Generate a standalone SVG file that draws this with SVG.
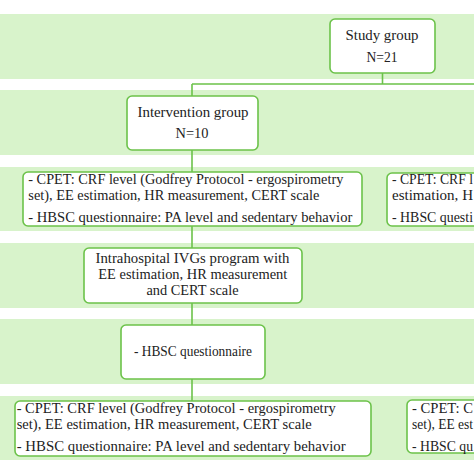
<svg xmlns="http://www.w3.org/2000/svg" width="474" height="474" viewBox="0 0 474 474">
<style>
.band{fill:#d8f3cb}
.box{fill:#ffffff;stroke:#6cc24a;stroke-width:1.6}
.ln{stroke:#6cc24a;stroke-width:1.6;fill:none}
text{font-family:"Liberation Serif","Times New Roman",serif;font-size:14px;fill:#222}
.c{text-anchor:middle}
</style>
<rect width="474" height="474" fill="#ffffff"/>
<g id="bands">
<rect class="band" x="0" y="14" width="474" height="65"/>
<rect class="band" x="0" y="90" width="474" height="65"/>
<rect class="band" x="0" y="167" width="474" height="64"/>
<rect class="band" x="0" y="243" width="474" height="65"/>
<rect class="band" x="0" y="319" width="474" height="65"/>
<rect class="band" x="0" y="396" width="474" height="64"/>
</g>
<g id="connectors">
<path class="ln" d="M382.5,73 V84 M192,84 H474 M192,84 V96"/>
<path class="ln" d="M192,150 V172"/>
<path class="ln" d="M192,226 V248"/>
<path class="ln" d="M192,303 V325"/>
<path class="ln" d="M192,379 V401"/>
</g>
<g id="study">
<rect class="box" x="330" y="19" width="105" height="54" rx="5"/>
<text class="c" x="382" y="40" textLength="73" lengthAdjust="spacingAndGlyphs">Study group</text>
<text class="c" x="382" y="62" textLength="31" lengthAdjust="spacingAndGlyphs">N=21</text>
</g>
<g id="intervention">
<rect class="box" x="127" y="96" width="131" height="54" rx="5"/>
<text class="c" x="193" y="117" textLength="111" lengthAdjust="spacingAndGlyphs">Intervention group</text>
<text class="c" x="192" y="138" textLength="33" lengthAdjust="spacingAndGlyphs">N=10</text>
</g>
<g id="pre-int">
<rect class="box" x="23" y="172" width="339" height="54" rx="5"/>
<text x="28.3" y="184" textLength="315" lengthAdjust="spacingAndGlyphs">- CPET: CRF level (Godfrey Protocol - ergospirometry</text>
<text x="28.3" y="200" textLength="291" lengthAdjust="spacingAndGlyphs">set), EE estimation, HR measurement, CERT scale</text>
<text x="28.3" y="222" textLength="324" lengthAdjust="spacingAndGlyphs">- HBSC questionnaire: PA level and sedentary behavior</text>
</g>
<g id="pre-ctrl">
<rect class="box" x="387" y="173" width="120" height="53" rx="5"/>
<text x="392" y="184" textLength="81" lengthAdjust="spacingAndGlyphs">- CPET: CRF l</text>
<text x="392" y="200" textLength="81" lengthAdjust="spacingAndGlyphs">estimation, H</text>
<text x="392" y="222" textLength="81" lengthAdjust="spacingAndGlyphs">- HBSC questi</text>
</g>
<g id="program">
<rect class="box" x="84" y="248" width="218" height="55" rx="5"/>
<text class="c" x="192.5" y="263" textLength="194" lengthAdjust="spacingAndGlyphs">Intrahospital IVGs program with</text>
<text class="c" x="192.8" y="279" textLength="189" lengthAdjust="spacingAndGlyphs">EE estimation, HR measurement</text>
<text class="c" x="192.5" y="295" textLength="92" lengthAdjust="spacingAndGlyphs">and CERT scale</text>
</g>
<g id="hbsc">
<rect class="box" x="121" y="325" width="144" height="54" rx="5"/>
<text class="c" x="193" y="356" textLength="118" lengthAdjust="spacingAndGlyphs">- HBSC questionnaire</text>
</g>
<g id="post-int">
<rect class="box" x="15" y="401" width="356" height="55" rx="5"/>
<text x="16.7" y="413" textLength="319" lengthAdjust="spacingAndGlyphs">- CPET: CRF level (Godfrey Protocol - ergospirometry</text>
<text x="16.7" y="429" textLength="295" lengthAdjust="spacingAndGlyphs">set), EE estimation, HR measurement, CERT scale</text>
<text x="16.7" y="451" textLength="329" lengthAdjust="spacingAndGlyphs">- HBSC questionnaire: PA level and sedentary behavior</text>
</g>
<g id="post-ctrl">
<rect class="box" x="407" y="400" width="120" height="53" rx="5"/>
<text x="412" y="413" textLength="61" lengthAdjust="spacingAndGlyphs">- CPET: C</text>
<text x="412" y="429" textLength="61" lengthAdjust="spacingAndGlyphs">set), EE est</text>
<text x="412" y="451" textLength="61" lengthAdjust="spacingAndGlyphs">- HBSC qu</text>
</g>
</svg>
